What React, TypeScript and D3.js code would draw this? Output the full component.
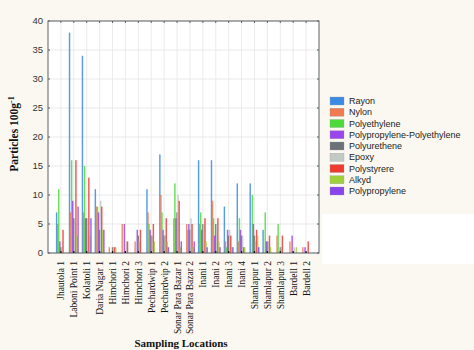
import React from 'react';
import * as d3 from 'd3';

// sampling locations along the x axis
const locations = [
  'Jhautola 1', 'Laboni Point 1', 'Kolatoli 1', 'Daria Nagar 1', 'Himchori 1',
  'Himchori 2', 'Himchori 3', 'Pechardwip 1', 'Pechardwip 2', 'Sonar Para Bazar 1',
  'Sonar Para Bazar 2', 'Inani 1', 'Inani 2', 'Inani 3', 'Inani 4',
  'Shamlapur 1', 'Shamlapur 2', 'Shamlapur 3', 'Bardell 1', 'Bardell 2',
];

const seriesNames = [
  'Rayon', 'Nylon', 'Polyethylene', 'Polypropylene-Polyethylene', 'Polyurethene',
  'Epoxy', 'Polystyrere', 'Alkyd', 'Polypropylene',
];

const seriesColors = [
  '#3b8be4', '#f07a52', '#4cdb3a', '#9b45ec', '#6b7379',
  '#c3c9c5', '#ee3a30', '#9fd03a', '#8a44ee',
];

// values per series, one per location
const rayon = [7, 38, 34, 11, 0, 0, 0, 11, 17, 0, 0, 16, 16, 8, 12, 12, 4, 0, 0, 0];
const nylon = [5, 7, 7, 8, 1, 5, 2, 7, 10, 6, 5, 5, 9, 2, 2, 0, 0, 3, 2, 1];
const polyethylene = [11, 16, 15, 8, 0, 0, 0, 5, 7, 12, 4, 7, 6, 1, 6, 10, 7, 5, 0, 0];
const ppPe = [2, 9, 6, 7, 0, 5, 4, 4, 4, 6, 5, 4, 3, 4, 4, 5, 2, 0, 3, 1];
const polyurethene = [1, 6, 6, 4, 1, 0, 3, 3, 3, 7, 4, 5, 5, 3, 3, 3, 2, 1, 0, 0];
const epoxy = [1, 5, 4, 9, 1, 2, 2, 3, 3, 10, 6, 5, 3, 4, 3, 2, 2, 1, 1, 0];
const polystyrere = [4, 16, 13, 8, 1, 2, 4, 5, 6, 9, 5, 6, 6, 3, 1, 4, 3, 3, 0, 2];
const alkyd = [0, 3, 3, 4, 1, 0, 0, 2, 2, 1, 1, 2, 2, 1, 1, 3, 1, 0, 1, 0];
const polypropylene = [0, 8, 6, 4, 0, 0, 0, 0, 1, 2, 2, 1, 1, 1, 0, 1, 0, 0, 0, 0];

const seriesValues = [rayon, nylon, polyethylene, ppPe, polyurethene, epoxy, polystyrere, alkyd, polypropylene];

const yTicks = [0, 5, 10, 15, 20, 25, 30, 35, 40];

const W = 474;
const H = 350;
const plot = { left: 48, right: 319, top: 21, bottom: 253 };

export default function App() {
  // categories sit at 1..20 on a 0..21 axis
  const x = d3.scaleLinear().domain([0, locations.length + 1]).range([plot.left, plot.right]);
  const y = d3.scaleLinear().domain([0, 40]).range([plot.bottom, plot.top]);
  const inner = d3.scaleBand<number>().domain(d3.range(seriesNames.length)).range([-5, 4.6]);
  const barW = inner.bandwidth() * 1.35;

  return (
    <svg width={W} height={H} style={{ position: 'absolute', left: 0, top: 0 }}>
      <rect x={0} y={0} width={W} height={H} fill="#fbf8f1" />
      <rect x={322} y={214} width={152} height={50} fill="#ffffff" />
      <rect x={plot.left} y={plot.top} width={plot.right - plot.left} height={plot.bottom - plot.top} fill="#ffffff" />

      {/* grid */}
      {yTicks.map(t => (
        <line key={'gy' + t} x1={plot.left} x2={plot.right} y1={y(t)} y2={y(t)} stroke="#e3e3e3" strokeWidth={0.8} />
      ))}
      {locations.map((l, i) => (
        <line key={'gx' + i} x1={x(i + 1)} x2={x(i + 1)} y1={plot.top} y2={plot.bottom} stroke="#e6e6e6" strokeWidth={0.8} />
      ))}

      {/* bars */}
      {seriesValues.map((vals, s) => (
        <g key={'s' + s} fill={seriesColors[s]} opacity={0.85}>
          {vals.map((v, i) => v > 0 ? (
            <rect key={i} x={x(i + 1) + (inner(s) as number)} y={y(v)} width={barW} height={y(0) - y(v)} />
          ) : null)}
        </g>
      ))}

      {/* frame and ticks */}
      <rect x={plot.left} y={plot.top} width={plot.right - plot.left} height={plot.bottom - plot.top} fill="none" stroke="#5c6266" strokeWidth={1} />
      {yTicks.map(t => (
        <g key={'ty' + t}>
          <line x1={plot.left} x2={plot.left + 2} y1={y(t)} y2={y(t)} stroke="#5c6266" />
          <line x1={plot.right - 2} x2={plot.right} y1={y(t)} y2={y(t)} stroke="#5c6266" />
          <text x={43} y={y(t)} dy="0.35em" textAnchor="end" fontFamily="Liberation Sans, Arial" fontSize={9.5} fill="#333">{t}</text>
        </g>
      ))}
      {locations.map((l, i) => (
        <g key={'tx' + i}>
          <line x1={x(i + 1)} x2={x(i + 1)} y1={plot.bottom} y2={plot.bottom - 2} stroke="#111" strokeWidth={1.2} />
          <line x1={x(i + 1)} x2={x(i + 1)} y1={plot.top} y2={plot.top + 2} stroke="#5c6266" />
          <text transform={`translate(${x(i + 1) + 3.5},${plot.bottom + 8}) rotate(-90)`} textAnchor="end"
            fontFamily="Liberation Serif, Times New Roman" fontSize={9.5} fill="#111">{l}</text>
        </g>
      ))}

      {/* axis titles */}
      <text transform="translate(18,134) rotate(-90)" textAnchor="middle" fontFamily="Liberation Serif, Times New Roman"
        fontWeight="bold" fontSize={11.5} fill="#111">
        Particles 100g<tspan dy={-4} fontSize={8}>-1</tspan>
      </text>
      <text x={181} y={347} textAnchor="middle" fontFamily="Liberation Serif, Times New Roman" fontWeight="bold" fontSize={11} fill="#111">
        Sampling Locations
      </text>

      {/* legend */}
      {seriesNames.map((n, i) => (
        <g key={'lg' + i} transform={`translate(330,${101 + i * 11.25})`}>
          <rect x={0} y={-4} width={14} height={8} fill={seriesColors[i]} stroke="#999" strokeWidth={0.3} />
          <text x={19} y={0} dy="0.35em" fontFamily="Liberation Sans, Arial" fontSize={9} fill="#222">{n}</text>
        </g>
      ))}
    </svg>
  );
}
